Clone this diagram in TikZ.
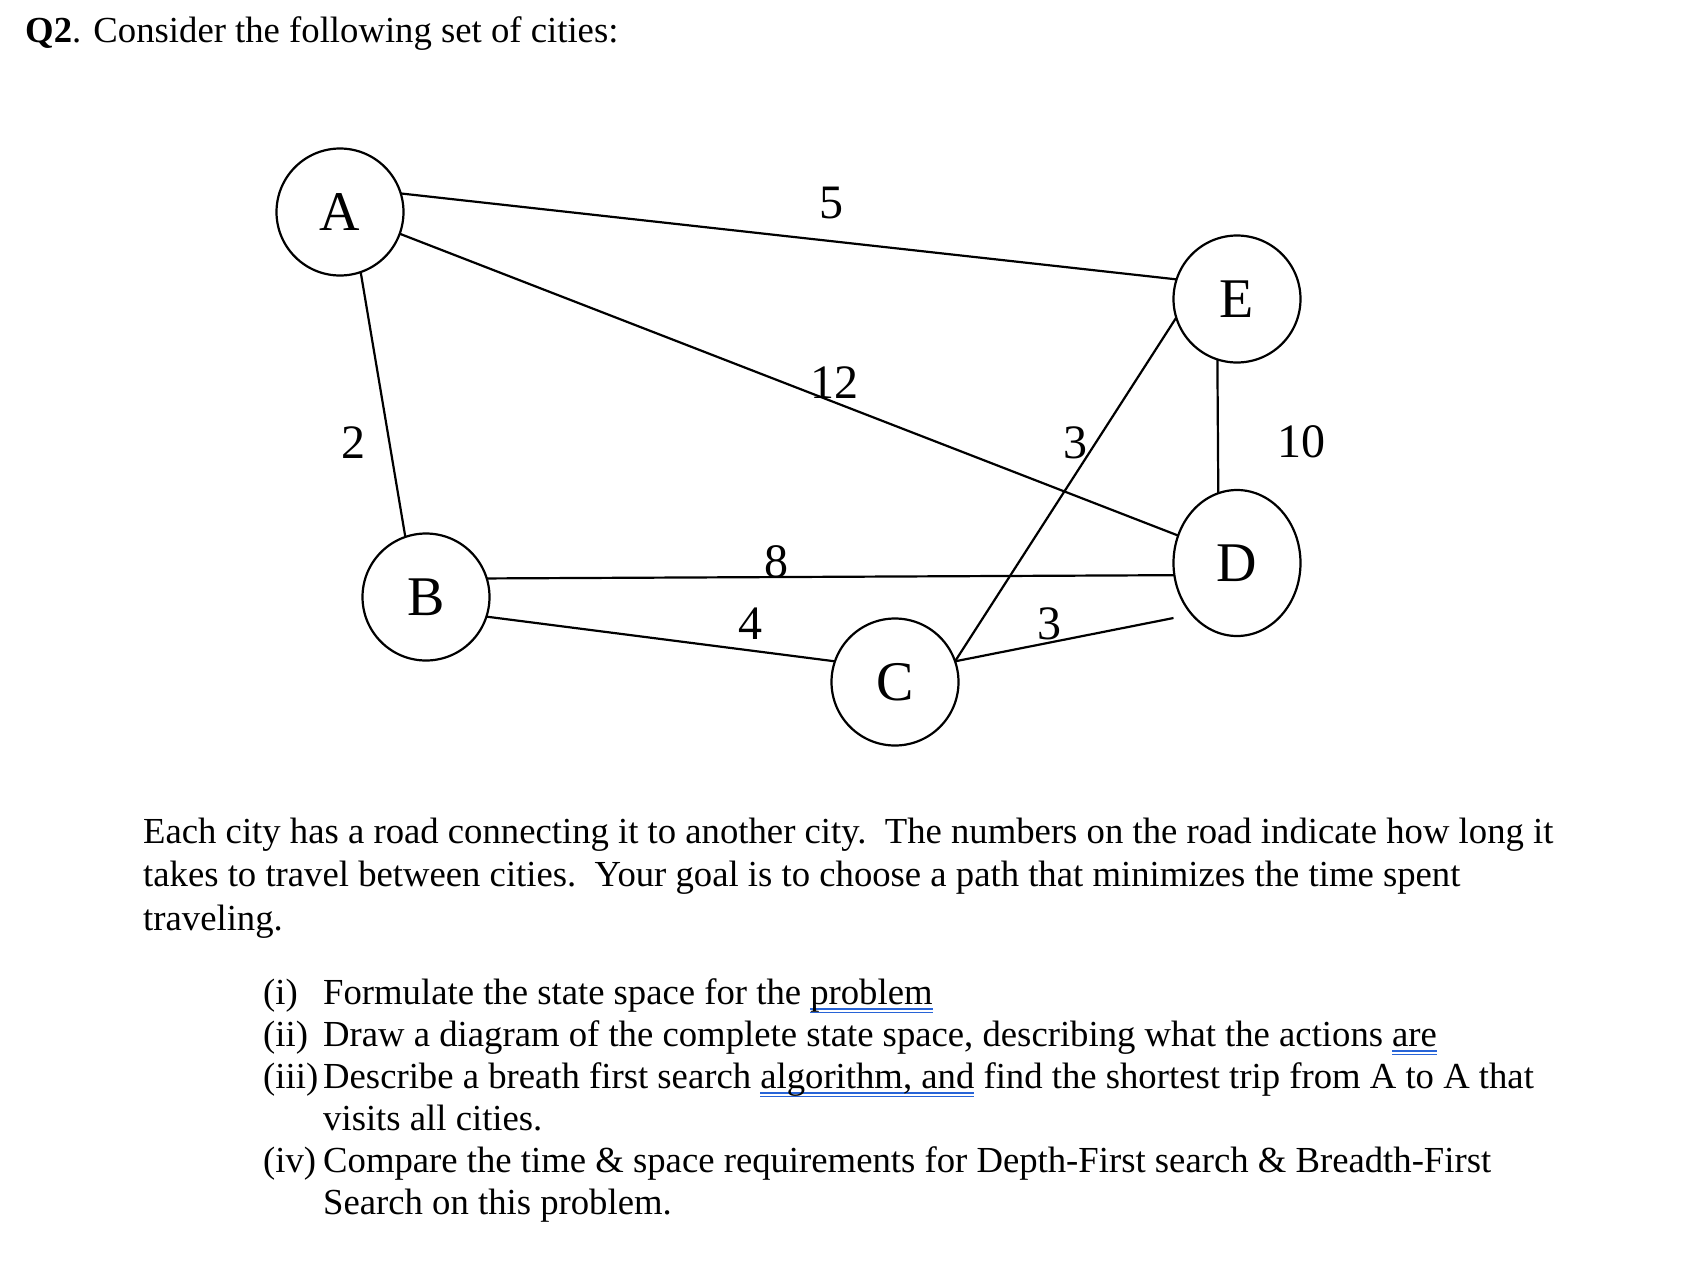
\documentclass[tikz,border=0pt]{standalone}
\usepackage{fontspec}
\setmainfont{Liberation Serif}
\usetikzlibrary{shapes.geometric}
\definecolor{spell}{RGB}{40,100,215}
\newsavebox\spellbox
\newcommand\spellul[1]{\sbox\spellbox{#1}\rlap{\textcolor{spell}{\rule[-5.5pt]{\wd\spellbox}{1.2pt}}}\rlap{\textcolor{spell}{\rule[-9pt]{\wd\spellbox}{1.2pt}}}\usebox\spellbox}
\begin{document}
\begin{tikzpicture}[x=1pt,y=-1pt,
  city/.style={draw,circle,line width=2.2pt,minimum size=127pt,inner sep=0pt,outer sep=0pt,font=\fontsize{56}{60}\selectfont},
  cityoval/.style={draw,ellipse,line width=2.2pt,minimum width=127pt,minimum height=146pt,inner sep=0pt,outer sep=0pt,font=\fontsize{56}{60}\selectfont},
  road/.style={line width=2.2pt},
  wt/.style={inner sep=0pt,font=\fontsize{48}{52}\selectfont},
  body/.style={anchor=base west,inner sep=0pt,font=\fontsize{36.7}{42}\selectfont},
  title/.style={anchor=base west,inner sep=0pt,font=\fontsize{36.7}{42}\selectfont}]
\useasboundingbox[fill=white] (0,0) rectangle (1703,1275);

\node[title] (t) at (25,42) {\textbf{Q2}. Consider the following set of cities:};

\node[city] (A) at (340,212) {A};
\node[city] (B) at (426,597) {B};
\node[city] (C) at (895,682) {C};
\node[cityoval] (D) at (1237,563) {D};
\node[city] (E) at (1237,299) {E};

\draw[road] (A.17) -- (E.162);
\draw[road] (A.-20) -- (D.155);
\draw[road] (A.-71) -- (B.109);
\draw[road] (B.17) -- (D.191);
\draw[road] (B.-18) -- (C.161);
\draw[road] (C.19) -- ([yshift=-55pt]D.west);
\draw[road] (C.19) -- (E.197);
\draw[road] (E.-108) -- (D.105);

\node[wt] (w5) at (831,203) {5};
\node[wt] (w12) at (834,383) {12};
\node[wt] (w2) at (353,443) {2};
\node[wt] (w3a) at (1075,443) {3};
\node[wt] (w10) at (1301,442) {10};
\node[wt] (w8) at (776,562) {8};
\node[wt] (w4) at (750,624) {4};
\node[wt] (w3b) at (1049,624) {3};

\node[body] (p1) at (143,843) {Each city has a road connecting it to another city.\ \ The numbers on the road indicate how long it};
\node[body] (p2) at (143,886) {takes to travel between cities.\ \ Your goal is to choose a path that minimizes the time spent};
\node[body] (p3) at (143,930) {traveling.};

\node[body] (l1) at (263,1004) {(i)};
\node[body] (i1) at (323,1004) {Formulate the state space for the \spellul{problem}};
\node[body] (l2) at (263,1046) {(ii)};
\node[body] (i2) at (323,1046) {Draw a diagram of the complete state space, describing what the actions \spellul{are}};
\node[body] (l3) at (263,1088) {(iii)};
\node[body] (i3) at (323,1088) {Describe a breath first search \spellul{algorithm, and} find the shortest trip from A to A that};
\node[body] (i3b) at (323,1130) {visits all cities.};
\node[body] (l4) at (263,1172) {(iv)};
\node[body] (i4) at (323,1172) {Compare the time \& space requirements for Depth-First search \& Breadth-First};
\node[body] (i4b) at (323,1214) {Search on this problem.};
\end{tikzpicture}
\end{document}
